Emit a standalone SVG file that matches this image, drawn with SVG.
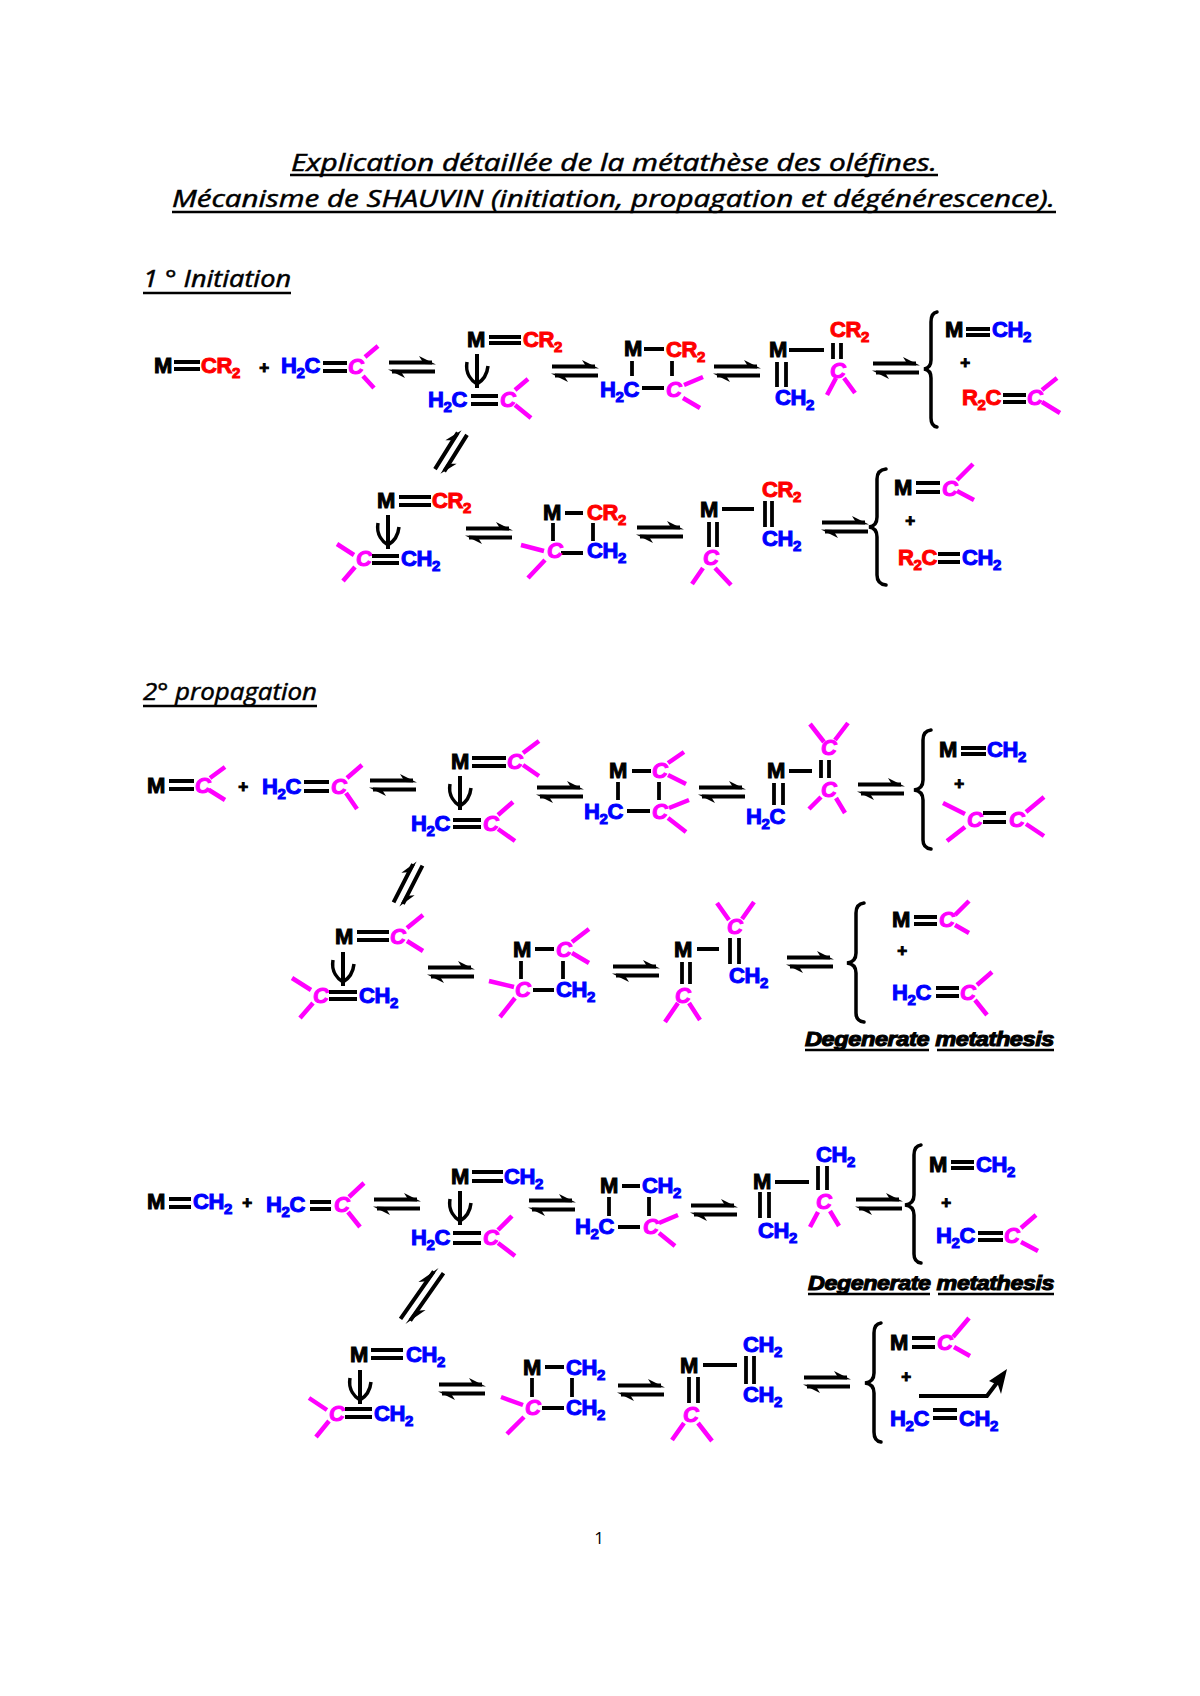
<svg xmlns="http://www.w3.org/2000/svg" xmlns:xlink="http://www.w3.org/1999/xlink" width="1200" height="1696" viewBox="0 0 1200 1696">
<style>
text{font-family:"Liberation Sans",Arial,sans-serif;font-weight:700;font-size:22px;letter-spacing:-.4px;stroke-width:1px}
.k{fill:#000;stroke:#000}
.r{fill:#f00;stroke:#f00}
.b{fill:#00f;stroke:#00f}
.p{fill:#f0f;stroke:#f0f;font-style:italic}
.s{font-size:15px}
.bd,.br,.ul,.ln{fill:none;stroke:#000}
.bd{stroke-width:3.8}
.br{stroke-width:3.5;stroke-linecap:round}
.m{fill:none;stroke:#f0f;stroke-width:4.5}
.ul{stroke-width:2.5}
.t{font-family:"Open Sans","Liberation Sans",sans-serif;font-style:italic;font-weight:500;font-size:23px;letter-spacing:0;fill:#000;stroke:#000;stroke-width:.5px}
.d{font-style:italic;font-size:21px;fill:#000;stroke:#000;stroke-width:1.1px}
.plus{font-size:17px;text-anchor:middle;fill:#000;stroke:#000}
.ln{stroke-width:4}
.pg{font-family:"Open Sans",sans-serif;font-weight:400;font-size:17px;letter-spacing:0;fill:#000;stroke:none;text-anchor:middle}
</style>
<defs>
<g id="eq"><path class="ln" d="M-23,-4.5H20M23,4.5H-20"/><path d="M24,-2.5 7,-11 12,-3ZM-24,2.5 -7,11 -12,3Z"/></g>
<g id="dn"><path class="ln" stroke-width="3" d="M0,0V34"/><path fill="none" stroke="#000" stroke-width="3.5" d="M-10,8C-12,20 -5,27 0,30C5,27 10,22 11,12"/></g>
</defs>
<rect width="1200" height="1696" fill="#fff"/>

<g id="headings">
<text class="t" x="291" y="171" textLength="646" lengthAdjust="spacingAndGlyphs">Explication détaillée de la métathèse des oléfines.</text>
<text class="t" x="172" y="207" textLength="883" lengthAdjust="spacingAndGlyphs">Mécanisme de SHAUVIN (initiation, propagation et dégénérescence).</text>
<text class="t" x="143" y="287" textLength="148" lengthAdjust="spacingAndGlyphs">1 ° Initiation</text>
<text class="t" x="143" y="700" textLength="174" lengthAdjust="spacingAndGlyphs">2° propagation</text>
<path class="ul" d="M290 175H938M172 212H1056M143 293H291M143 706H317"/>
<text class="pg" x="599" y="1544">1</text>
</g>

<g id="connectors">
<use href="#eq" transform="translate(412,367)"/>
<use href="#eq" transform="translate(575,371)"/>
<use href="#eq" transform="translate(737,371)"/>
<use href="#eq" transform="translate(896,368)"/>
<use href="#dn" transform="translate(477,354)"/>
<use href="#eq" transform="translate(451,452) rotate(-58)"/>
<use href="#dn" transform="translate(388,515)"/>
<use href="#eq" transform="translate(489,533)"/>
<use href="#eq" transform="translate(660,532)"/>
<use href="#eq" transform="translate(845,527)"/>
<use href="#eq" transform="translate(393,785)"/>
<use href="#eq" transform="translate(560,792)"/>
<use href="#eq" transform="translate(722,792)"/>
<use href="#eq" transform="translate(881,789)"/>
<use href="#dn" transform="translate(460,776)"/>
<use href="#eq" transform="translate(408,884) rotate(-63)"/>
<use href="#dn" transform="translate(343,952)"/>
<use href="#eq" transform="translate(451,972)"/>
<use href="#eq" transform="translate(636,971)"/>
<use href="#eq" transform="translate(810,962)"/>
<use href="#eq" transform="translate(397,1204)"/>
<use href="#eq" transform="translate(552,1205)"/>
<use href="#eq" transform="translate(714,1210)"/>
<use href="#eq" transform="translate(879,1204)"/>
<use href="#dn" transform="translate(460,1191)"/>
<use href="#eq" transform="translate(422,1296) rotate(-55) scale(1.35,1)"/>
<use href="#dn" transform="translate(360,1370)"/>
<use href="#eq" transform="translate(462,1389)"/>
<use href="#eq" transform="translate(641,1390)"/>
<use href="#eq" transform="translate(827,1382)"/>
<g id="exit-arrow"><path class="ln" stroke-width="4" d="M919,1396H987L999,1380"/><path d="M1007,1369 989,1381 998,1385 1001,1394Z"/></g>
</g>

<!-- ROW 1 -->
<g id="n1-1"><text class="k" x="154" y="373">M</text><path class="bd" d="M174 362H200M174 369H200"/><text class="r" x="201" y="373">CR<tspan class="s" dy="5">2</tspan></text></g>
<text id="n1-plus" class="plus" x="264" y="373">+</text>
<g id="n1-2"><text class="b" x="281" y="373">H<tspan class="s" dy="5">2</tspan><tspan dy="-5">C</tspan></text><path class="bd" d="M323 363H347M323 371H347"/><text class="p" x="348" y="374">C</text><path class="m" d="M365 357L378 346M363 376L374 388"/></g>
<g id="n1-3"><text class="k" x="467" y="347">M</text><path class="bd" d="M489 337H521M489 343H521"/><text class="r" x="523" y="347">CR<tspan class="s" dy="5">2</tspan></text><text class="b" x="428" y="407">H<tspan class="s" dy="5">2</tspan><tspan dy="-5">C</tspan></text><path class="bd" d="M471 396H498M471 404H498"/><text class="p" x="500" y="407">C</text><path class="m" d="M515 390L528 379M515 405L531 418"/></g>
<g id="n1-4"><text class="k" x="624" y="356">M</text><path class="bd" d="M644 349H664M632 361V376M672 361V376M642 388H664"/><text class="r" x="666" y="357">CR<tspan class="s" dy="5">2</tspan></text><text class="b" x="600" y="397">H<tspan class="s" dy="5">2</tspan><tspan dy="-5">C</tspan></text><text class="p" x="666" y="397">C</text><path class="m" d="M684 385L703 377M683 398L700 408"/></g>
<g id="n1-5"><text class="k" x="769" y="357">M</text><path class="bd" d="M789 350H824M777 362V387M786 362V387M833 343V359M841 343V359"/><text class="b" x="775" y="405">CH<tspan class="s" dy="5">2</tspan></text><text class="r" x="830" y="337">CR<tspan class="s" dy="5">2</tspan></text><text class="p" x="830" y="378">C</text><path class="m" d="M836 378L827 395M844 378L855 393"/></g>
<g id="n1-6"><path class="br" d="M937 312Q931 313 931 322V360Q931 368 924 369Q931 370 931 378V418Q931 426 937 427"/><text class="k" x="945" y="337">M</text><path class="bd" d="M966 329H990M966 335H990"/><text class="b" x="992" y="337">CH<tspan class="s" dy="5">2</tspan></text><text class="plus" x="965" y="368">+</text><text class="r" x="962" y="405">R<tspan class="s" dy="5">2</tspan><tspan dy="-5">C</tspan></text><path class="bd" d="M1003 395H1026M1003 402H1026"/><text class="p" x="1027" y="405">C</text><path class="m" d="M1042 390L1057 378M1042 402L1060 413"/></g>

<!-- ROW 2 -->
<g id="n2-1"><text class="k" x="377" y="508">M</text><path class="bd" d="M399 497H431M399 505H431"/><text class="r" x="432" y="508">CR<tspan class="s" dy="5">2</tspan></text><text class="p" x="356" y="566">C</text><path class="m" d="M354 555L337 544M355 567L343 581"/><path class="bd" d="M372 556H399M372 563H399"/><text class="b" x="401" y="566">CH<tspan class="s" dy="5">2</tspan></text></g>
<g id="n2-2"><text class="k" x="543" y="520">M</text><path class="bd" d="M565 513H583M553 523V541M593 523V541M561 553H583"/><text class="r" x="587" y="520">CR<tspan class="s" dy="5">2</tspan></text><text class="p" x="547" y="558">C</text><text class="b" x="587" y="558">CH<tspan class="s" dy="5">2</tspan></text><path class="m" d="M544 551L521 545M545 560L528 578"/></g>
<g id="n2-3"><text class="k" x="700" y="517">M</text><path class="bd" d="M722 509H754M709 522V547M717 522V547M765 501V527M772 501V527"/><text class="p" x="703" y="565">C</text><path class="m" d="M703 568L692 584M715 568L731 585"/><text class="r" x="762" y="497">CR<tspan class="s" dy="5">2</tspan></text><text class="b" x="762" y="546">CH<tspan class="s" dy="5">2</tspan></text></g>
<g id="n2-4"><path class="br" d="M886 469Q877 470 877 479V517Q877 526 869 527Q877 528 877 537V575Q877 584 886 585"/><text class="k" x="894" y="495">M</text><path class="bd" d="M916 483H940M916 492H940"/><text class="p" x="942" y="496">C</text><path class="m" d="M957 480L973 464M957 491L974 500"/><text class="plus" x="910" y="526">+</text><text class="r" x="898" y="565">R<tspan class="s" dy="5">2</tspan><tspan dy="-5">C</tspan></text><path class="bd" d="M938 554H960M938 562H960"/><text class="b" x="962" y="565">CH<tspan class="s" dy="5">2</tspan></text></g>

<!-- ROW 3 -->
<g id="n3-1"><text class="k" x="147" y="793">M</text><path class="bd" d="M169 781H194M169 789H194"/><text class="p" x="195" y="793">C</text><path class="m" d="M210 778L225 767M209 790L225 800"/></g>
<text id="n3-plus" class="plus" x="243" y="792">+</text>
<g id="n3-2"><text class="b" x="262" y="794">H<tspan class="s" dy="5">2</tspan><tspan dy="-5">C</tspan></text><path class="bd" d="M304 782H329M304 791H329"/><text class="p" x="331" y="794">C</text><path class="m" d="M347 778L362 765M346 793L357 809"/></g>
<g id="n3-3"><text class="k" x="451" y="769">M</text><path class="bd" d="M472 758H506M472 766H506"/><text class="p" x="507" y="769">C</text><path class="m" d="M523 753L539 741M523 765L539 776"/><text class="b" x="411" y="831">H<tspan class="s" dy="5">2</tspan><tspan dy="-5">C</tspan></text><path class="bd" d="M453 820H481M453 827H481"/><text class="p" x="483" y="831">C</text><path class="m" d="M498 815L513 802M498 829L515 841"/></g>
<g id="n3-4"><text class="k" x="609" y="778">M</text><path class="bd" d="M632 771H651M618 782V800M659 782V800M627 811H650"/><text class="p" x="652" y="778">C</text><path class="m" d="M668 763L684 752M668 775L686 784"/><text class="b" x="584" y="819">H<tspan class="s" dy="5">2</tspan><tspan dy="-5">C</tspan></text><text class="p" x="652" y="819">C</text><path class="m" d="M669 808L689 800M668 818L686 832"/></g>
<g id="n3-5"><text class="k" x="767" y="778">M</text><path class="bd" d="M789 771H812M774 783V805M783 783V805M821 760V778M829 760V778"/><text class="b" x="746" y="824">H<tspan class="s" dy="5">2</tspan><tspan dy="-5">C</tspan></text><text class="p" x="821" y="755">C</text><path class="m" d="M824 742L810 724M835 740L848 723"/><text class="p" x="821" y="797">C</text><path class="m" d="M821 797L809 809M836 798L845 813"/></g>
<g id="n3-6"><path class="br" d="M931 730Q923 731 923 740V780Q923 789 914 790Q923 791 923 800V840Q923 848 931 849"/><text class="k" x="939" y="757">M</text><path class="bd" d="M961 748H986M961 754H986"/><text class="b" x="987" y="757">CH<tspan class="s" dy="5">2</tspan></text><text class="plus" x="959" y="789">+</text><text class="p" x="967" y="827">C</text><path class="bd" d="M983 813H1006M983 822H1006"/><text class="p" x="1009" y="827">C</text><path class="m" d="M965 814L943 803M965 827L947 841M1026 812L1044 797M1026 824L1044 836"/></g>

<!-- ROW 4 -->
<g id="n4-1"><text class="k" x="335" y="944">M</text><path class="bd" d="M357 932H389M357 940H389"/><text class="p" x="390" y="944">C</text><path class="m" d="M407 928L423 915M407 941L423 951"/><text class="p" x="313" y="1003">C</text><path class="m" d="M311 990L292 978M313 1003L300 1018"/><path class="bd" d="M329 992H357M329 999H357"/><text class="b" x="359" y="1003">CH<tspan class="s" dy="5">2</tspan></text></g>
<g id="n4-2"><text class="k" x="513" y="957">M</text><path class="bd" d="M535 949H554M521 961V979M563 961V979M533 990H554"/><text class="p" x="556" y="957">C</text><path class="m" d="M572 942L589 929M572 953L589 963"/><text class="p" x="515" y="997">C</text><text class="b" x="556" y="997">CH<tspan class="s" dy="5">2</tspan></text><path class="m" d="M514 987L489 981M515 998L500 1017"/></g>
<g id="n4-3"><text class="k" x="674" y="957">M</text><path class="bd" d="M697 949H719M682 962V984M690 962V984M730 938V964M739 938V964"/><text class="p" x="675" y="1003">C</text><path class="m" d="M678 1003L665 1022M689 1003L700 1020"/><text class="p" x="727" y="934">C</text><path class="m" d="M729 920L717 903M742 919L754 902"/><text class="b" x="729" y="983">CH<tspan class="s" dy="5">2</tspan></text></g>
<g id="n4-4"><path class="br" d="M864 903Q856 904 856 913V953Q856 962 847 963Q856 964 856 973V1013Q856 1021 864 1022"/><text class="k" x="892" y="927">M</text><path class="bd" d="M914 917H937M914 924H937"/><text class="p" x="939" y="927">C</text><path class="m" d="M955 915L969 901M955 925L969 933"/><text class="plus" x="902" y="956">+</text><text class="b" x="892" y="1000">H<tspan class="s" dy="5">2</tspan><tspan dy="-5">C</tspan></text><path class="bd" d="M936 988H959M936 996H959"/><text class="p" x="960" y="1000">C</text><path class="m" d="M977 985L992 972M975 1000L987 1015"/></g>
<g id="label-degenerate-1"><text class="d" x="805" y="1046" textLength="249" lengthAdjust="spacingAndGlyphs">Degenerate metathesis</text><path class="ul" d="M805 1050H929M937 1050H1054"/></g>

<!-- ROW 5 -->
<g id="n5-1"><text class="k" x="147" y="1209">M</text><path class="bd" d="M169 1199H191M169 1207H191"/><text class="b" x="193" y="1209">CH<tspan class="s" dy="5">2</tspan></text></g>
<text id="n5-plus" class="plus" x="247" y="1208">+</text>
<g id="n5-2"><text class="b" x="266" y="1212">H<tspan class="s" dy="5">2</tspan><tspan dy="-5">C</tspan></text><path class="bd" d="M310 1202H331M310 1209H331"/><text class="p" x="334" y="1212">C</text><path class="m" d="M349 1197L364 1183M348 1212L360 1227"/></g>
<g id="n5-3"><text class="k" x="451" y="1184">M</text><path class="bd" d="M472 1172H503M472 1181H503"/><text class="b" x="504" y="1184">CH<tspan class="s" dy="5">2</tspan></text><text class="b" x="411" y="1245">H<tspan class="s" dy="5">2</tspan><tspan dy="-5">C</tspan></text><path class="bd" d="M453 1233H481M453 1243H481"/><text class="p" x="483" y="1245">C</text><path class="m" d="M498 1230L512 1216M498 1243L515 1256"/></g>
<g id="n5-4"><text class="k" x="600" y="1193">M</text><path class="bd" d="M622 1186H640M609 1197V1216M649 1197V1216M618 1227H640"/><text class="b" x="642" y="1193">CH<tspan class="s" dy="5">2</tspan></text><text class="b" x="575" y="1234">H<tspan class="s" dy="5">2</tspan><tspan dy="-5">C</tspan></text><text class="p" x="643" y="1234">C</text><path class="m" d="M659 1223L678 1215M659 1233L675 1246"/></g>
<g id="n5-5"><text class="k" x="753" y="1189">M</text><path class="bd" d="M775 1182H809M760 1192V1218M769 1192V1218M818 1166V1190M827 1166V1190"/><text class="b" x="758" y="1238">CH<tspan class="s" dy="5">2</tspan></text><text class="b" x="816" y="1162">CH<tspan class="s" dy="5">2</tspan></text><text class="p" x="816" y="1209">C</text><path class="m" d="M818 1212L810 1227M830 1211L839 1226"/></g>
<g id="n5-6"><path class="br" d="M921 1145Q914 1146 914 1155V1195Q914 1204 905 1205Q914 1206 914 1215V1254Q914 1262 921 1263"/><text class="k" x="929" y="1172">M</text><path class="bd" d="M951 1162H974M951 1168H974"/><text class="b" x="976" y="1172">CH<tspan class="s" dy="5">2</tspan></text><text class="plus" x="946" y="1208">+</text><text class="b" x="936" y="1243">H<tspan class="s" dy="5">2</tspan><tspan dy="-5">C</tspan></text><path class="bd" d="M978 1233H1003M978 1240H1003"/><text class="p" x="1004" y="1243">C</text><path class="m" d="M1021 1228L1036 1215M1021 1242L1038 1251"/></g>
<g id="label-degenerate-2"><text class="d" x="808" y="1290" textLength="246" lengthAdjust="spacingAndGlyphs">Degenerate metathesis</text><path class="ul" d="M808 1294H930M938 1294H1054"/></g>

<!-- ROW 6 -->
<g id="n6-1"><text class="k" x="350" y="1362">M</text><path class="bd" d="M371 1350H403M371 1358H403"/><text class="b" x="406" y="1362">CH<tspan class="s" dy="5">2</tspan></text><text class="p" x="329" y="1421">C</text><path class="bd" d="M345 1409H372M345 1417H372"/><text class="b" x="374" y="1421">CH<tspan class="s" dy="5">2</tspan></text><path class="m" d="M327 1410L309 1398M329 1421L316 1437"/></g>
<g id="n6-2"><text class="k" x="523" y="1375">M</text><path class="bd" d="M545 1367H564M532 1378V1397M572 1378V1397M542 1408H564"/><text class="b" x="566" y="1375">CH<tspan class="s" dy="5">2</tspan></text><text class="p" x="525" y="1415">C</text><text class="b" x="566" y="1415">CH<tspan class="s" dy="5">2</tspan></text><path class="m" d="M523 1405L501 1397M524 1417L507 1434"/></g>
<g id="n6-3"><text class="k" x="680" y="1373">M</text><path class="bd" d="M703 1365H737M689 1377V1403M698 1377V1403M746 1356V1384M754 1356V1384"/><text class="p" x="683" y="1422">C</text><path class="m" d="M684 1423L672 1440M698 1423L712 1441"/><text class="b" x="743" y="1352">CH<tspan class="s" dy="5">2</tspan></text><text class="b" x="743" y="1402">CH<tspan class="s" dy="5">2</tspan></text></g>
<g id="n6-4"><path class="br" d="M881 1323Q874 1324 874 1333V1373Q874 1382 865 1383Q874 1384 874 1393V1432Q874 1441 881 1442"/><text class="k" x="890" y="1350">M</text><path class="bd" d="M912 1338H935M912 1347H935"/><text class="p" x="937" y="1350">C</text><path class="m" d="M953 1337L969 1318M954 1347L970 1356"/><text class="plus" x="906" y="1382">+</text><text class="b" x="890" y="1426">H<tspan class="s" dy="5">2</tspan><tspan dy="-5">C</tspan></text><path class="bd" d="M933 1410H957M933 1418H957"/><text class="b" x="959" y="1426">CH<tspan class="s" dy="5">2</tspan></text></g>
</svg>
